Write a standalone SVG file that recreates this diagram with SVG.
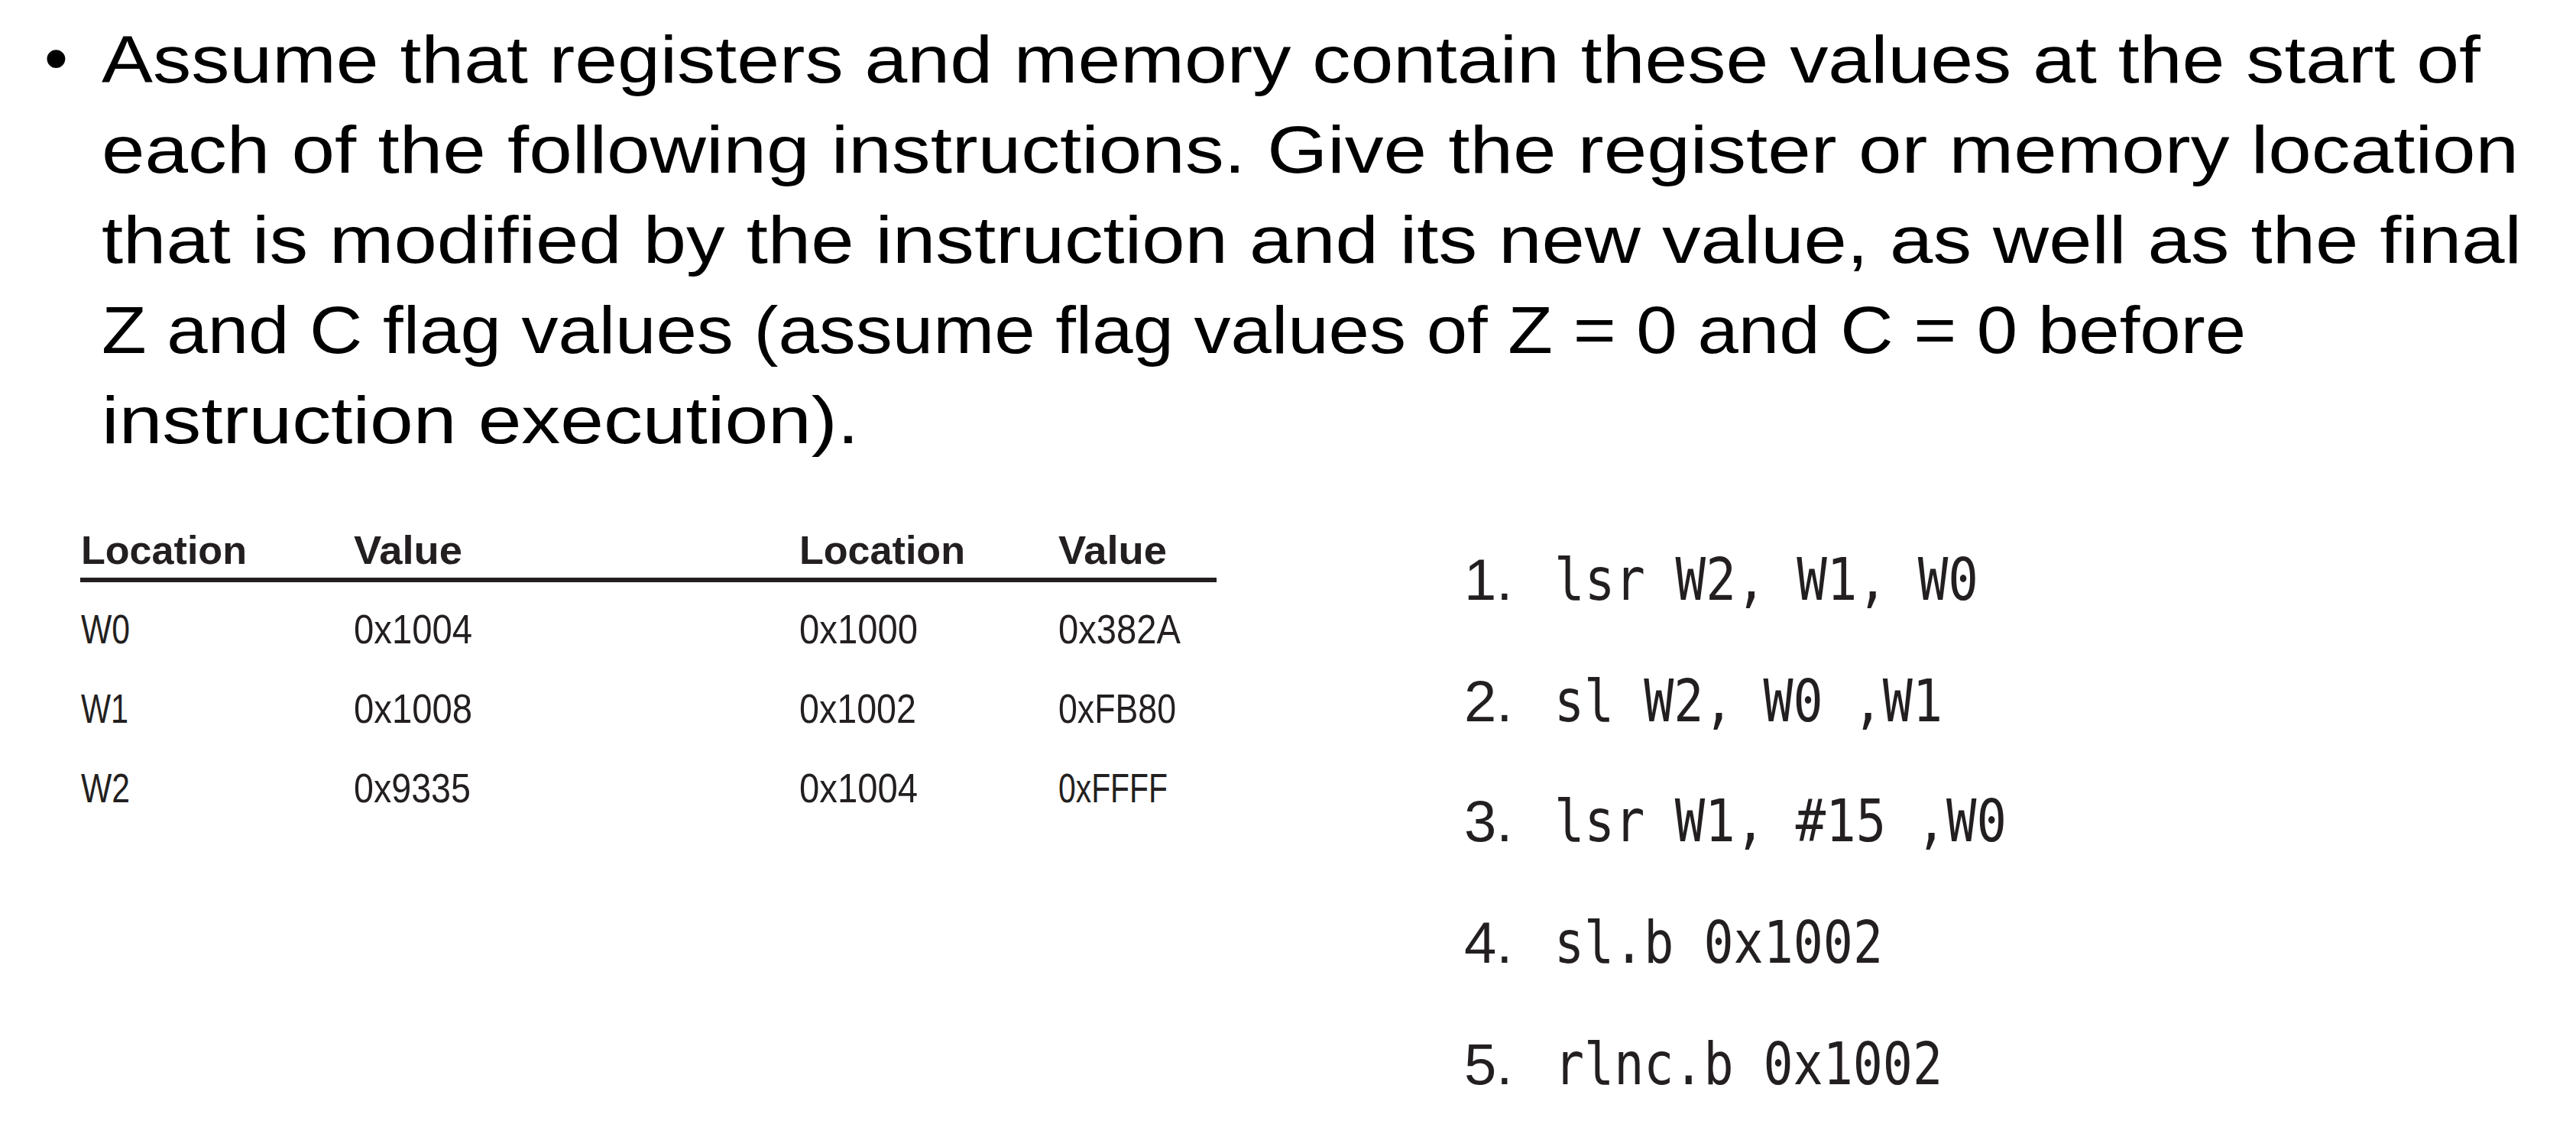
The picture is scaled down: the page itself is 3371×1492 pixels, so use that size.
<svg xmlns="http://www.w3.org/2000/svg" width="3371" height="1492" viewBox="0 0 3371 1492">
<style>
.b{font-family:"Liberation Sans",Arial,sans-serif;font-size:88px;fill:#000}
.h{font-family:"Liberation Sans",Arial,sans-serif;font-size:52px;font-weight:bold;fill:#231f20}
.c{font-family:"Liberation Sans",Arial,sans-serif;font-size:54px;fill:#231f20}
.n{font-family:"Liberation Sans",Arial,sans-serif;font-size:76px;fill:#231f20}
.m{font-family:"DejaVu Sans Mono","Liberation Mono",monospace;font-size:76px;fill:#231f20}
</style>
<rect width="3371" height="1492" fill="#fff"/>
<g id="text">
<text class="b" x="58" y="106">•</text>
<text class="b" x="133" y="108" textLength="3113" lengthAdjust="spacingAndGlyphs">Assume that registers and memory contain these values at the start of</text>
<text class="b" x="133" y="226" textLength="3163" lengthAdjust="spacingAndGlyphs">each of the following instructions. Give the register or memory location</text>
<text class="b" x="133" y="344" textLength="3167" lengthAdjust="spacingAndGlyphs">that is modified by the instruction and its new value, as well as the final</text>
<text class="b" x="133" y="462" textLength="2806" lengthAdjust="spacingAndGlyphs">Z and C flag values (assume flag values of Z = 0 and C = 0 before</text>
<text class="b" x="133" y="580" textLength="991" lengthAdjust="spacingAndGlyphs">instruction execution).</text>
</g>
<g id="table">
<text class="h" x="106" y="738" textLength="217" lengthAdjust="spacingAndGlyphs">Location</text>
<text class="h" x="463" y="738" textLength="142" lengthAdjust="spacingAndGlyphs">Value</text>
<text class="h" x="1046" y="738" textLength="217" lengthAdjust="spacingAndGlyphs">Location</text>
<text class="h" x="1385" y="738" textLength="142" lengthAdjust="spacingAndGlyphs">Value</text>
<line x1="105" y1="759" x2="1592" y2="759" stroke="#231f20" stroke-width="6"/>
<text class="c" x="106" y="842" textLength="64" lengthAdjust="spacingAndGlyphs">W0</text>
<text class="c" x="463" y="842" textLength="155" lengthAdjust="spacingAndGlyphs">0x1004</text>
<text class="c" x="1046" y="842" textLength="155" lengthAdjust="spacingAndGlyphs">0x1000</text>
<text class="c" x="1385" y="842" textLength="160" lengthAdjust="spacingAndGlyphs">0x382A</text>
<text class="c" x="106" y="946" textLength="62" lengthAdjust="spacingAndGlyphs">W1</text>
<text class="c" x="463" y="946" textLength="155" lengthAdjust="spacingAndGlyphs">0x1008</text>
<text class="c" x="1046" y="946" textLength="153" lengthAdjust="spacingAndGlyphs">0x1002</text>
<text class="c" x="1385" y="946" textLength="154" lengthAdjust="spacingAndGlyphs">0xFB80</text>
<text class="c" x="106" y="1050" textLength="64" lengthAdjust="spacingAndGlyphs">W2</text>
<text class="c" x="463" y="1050" textLength="153" lengthAdjust="spacingAndGlyphs">0x9335</text>
<text class="c" x="1046" y="1050" textLength="155" lengthAdjust="spacingAndGlyphs">0x1004</text>
<text class="c" x="1385" y="1050" textLength="143" lengthAdjust="spacingAndGlyphs">0xFFFF</text>
</g>
<g id="instructions">
<text class="n" x="1916" y="785">1.</text>
<text class="m" x="2034" y="785" textLength="555" lengthAdjust="spacingAndGlyphs">lsr W2, W1, W0</text>
<text class="n" x="1916" y="944">2.</text>
<text class="m" x="2034" y="944" textLength="508" lengthAdjust="spacingAndGlyphs">sl W2, W0 ,W1</text>
<text class="n" x="1916" y="1101">3.</text>
<text class="m" x="2034" y="1101" textLength="592" lengthAdjust="spacingAndGlyphs">lsr W1, #15 ,W0</text>
<text class="n" x="1916" y="1260">4.</text>
<text class="m" x="2034" y="1260" textLength="430" lengthAdjust="spacingAndGlyphs">sl.b 0x1002</text>
<text class="n" x="1916" y="1419">5.</text>
<text class="m" x="2034" y="1419" textLength="508" lengthAdjust="spacingAndGlyphs">rlnc.b 0x1002</text>
</g>
</svg>
